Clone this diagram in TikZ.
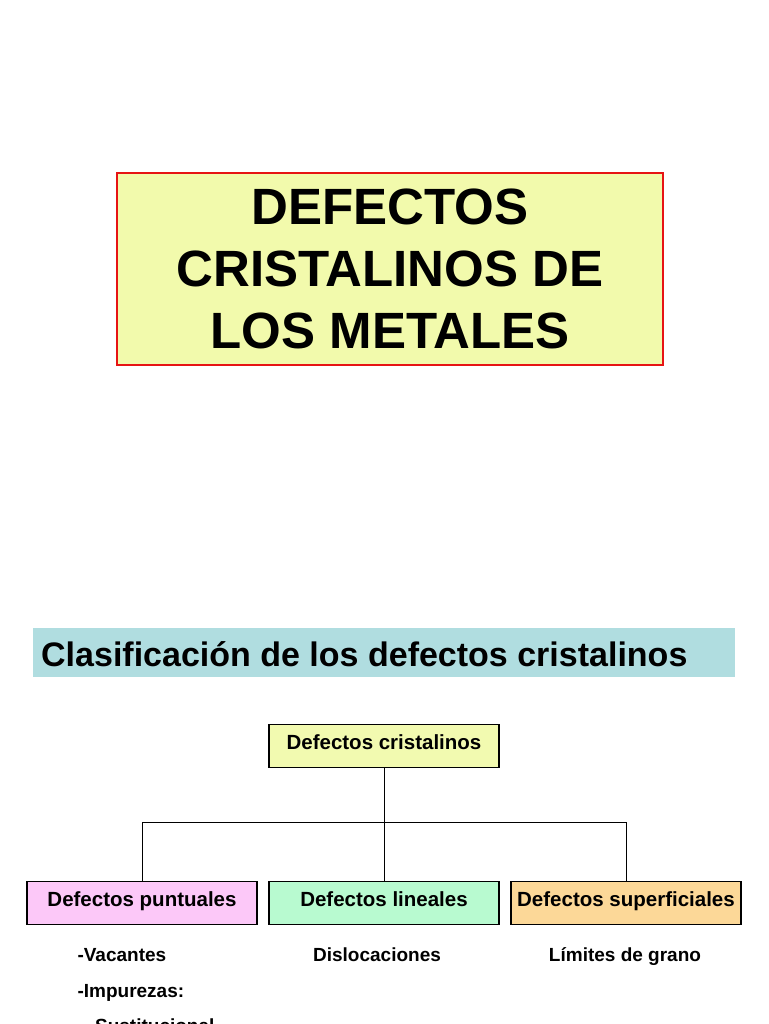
\documentclass[tikz,border=0pt]{standalone}
\usepackage{fontspec}
\setmainfont{Liberation Sans}
\begin{document}
\begin{tikzpicture}[x=1pt,y=-1pt,
  box/.style={draw=black,line width=1.2pt,minimum width=230pt,minimum height=43pt,font=\bfseries\fontsize{20.5}{24}\selectfont,inner sep=0pt,text height=1.5ex,text depth=.3ex},
  sub/.style={font=\bfseries\fontsize{19}{22}\selectfont,text height=1.5ex,text depth=.3ex},
  conn/.style={line width=1pt}]
\useasboundingbox (0,0) rectangle (768,1024);
\clip (0,0) rectangle (768,1024);
\fill[white] (0,0) rectangle (768,1024);
\node[draw={rgb,255:red,230;green,20;blue,20},line width=1.5pt,fill={rgb,255:red,242;green,250;blue,172},minimum width=546pt,minimum height=192pt,align=center,font=\bfseries\fontsize{51}{62}\selectfont] (title) at (390,269) {DEFECTOS\\CRISTALINOS DE\\LOS METALES};
\node[fill={rgb,255:red,176;green,221;blue,224},minimum width=702pt,minimum height=49pt,anchor=north west,inner sep=0pt] (band) at (33,628) {};
\node[anchor=west,font=\bfseries\fontsize{34}{38}\selectfont,inner sep=0pt] (bandtext) at (41,654) {Clasificación de los defectos cristalinos};
\node[box,fill={rgb,255:red,242;green,250;blue,176}] (root) at (384,746) {Defectos cristalinos};
\node[box,fill={rgb,255:red,252;green,200;blue,248}] (p) at (142,903) {Defectos puntuales};
\node[box,fill={rgb,255:red,184;green,250;blue,208}] (l) at (384,903) {Defectos lineales};
\node[box,fill={rgb,255:red,252;green,216;blue,152}] (s) at (626,903) {Defectos superficiales};
\coordinate (j) at (384,822);
\draw[conn] (root.south) -- (j);
\draw[conn] (j) -| (p.north);
\draw[conn] (j) -- (l.north);
\draw[conn] (j) -| (s.north);
\node[sub,anchor=west] (v) at (74,958) {-Vacantes};
\node[sub,anchor=west] (i) at (74,994) {-Impurezas:};
\node[sub,anchor=west] (st) at (80,1029) {- Sustitucional};
\node[sub] (d) at (377,958) {Dislocaciones};
\node[sub] (g) at (625,958) {Límites de grano};
\end{tikzpicture}
\end{document}
